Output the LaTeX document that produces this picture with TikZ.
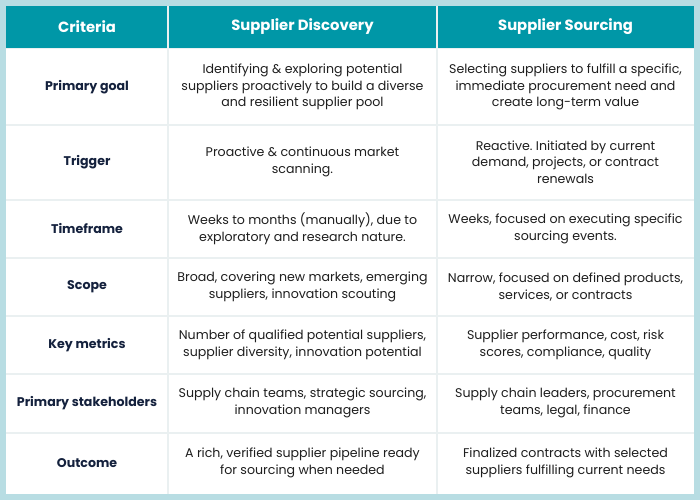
\documentclass[tikz,border=0pt]{standalone}
\usepackage{fontspec}
\setmainfont{Poppins}
\frenchspacing
\definecolor{bgblue}{HTML}{B8DDE3}
\definecolor{teal}{HTML}{0097A7}
\definecolor{sep}{HTML}{EAF0F1}
\definecolor{navy}{HTML}{14213D}
\definecolor{bodyc}{HTML}{1E1E1E}
\tikzset{x=1pt,y=-1pt,
 hd/.style={font=\bfseries\fontsize{14.8}{17}\selectfont,text=white,align=center},
 crit/.style={font=\bfseries\fontsize{12.6}{16}\selectfont,text=navy,align=center},
 bd/.style={font=\fontsize{12.6}{16.5}\selectfont,text=bodyc,align=center}}
\begin{document}
\begin{tikzpicture}
\fill[bgblue] (0,0) rectangle (700,500);
\useasboundingbox (0,0) rectangle (700,500);
\fill[sep] (6,6) rectangle (694,494);
\foreach \a/\b in {6/48}{
 \fill[teal] (6,\a) rectangle (167,\b);
 \fill[teal] (169,\a) rectangle (436,\b);
 \fill[teal] (438,\a) rectangle (694,\b);}
\foreach \a/\b in {49/124,126/199,201/257,259/315,317/373,375/432,434/494}{
 \fill[white] (6,\a) rectangle (167,\b);
 \fill[white] (169,\a) rectangle (436,\b);
 \fill[white] (438,\a) rectangle (694,\b);}
\node[hd] (h1) at (87,27) {Criteria};
\node[hd] (h2) at (302.5,27) {Supplier Discovery};
\node[hd] (h3) at (565.5,27) {Supplier Sourcing};
\node[crit] (c1) at (87,87) {Primary goal};
\node[crit] (c2) at (87,162) {Trigger};
\node[crit] (c3) at (87,229) {Timeframe};
\node[crit] (c4) at (87,287) {Scope};
\node[crit] (c5) at (87,345) {Key metrics};
\node[crit] (c6) at (87,403) {Primary stakeholders};
\node[crit] (c7) at (87,463) {Outcome};
\node[bd] (d1) at (302.5,87) {Identifying \& exploring potential\\suppliers proactively to build a diverse\\and resilient supplier pool};
\node[bd] (d2) at (302.5,162) {Proactive \& continuous market\\scanning.};
\node[bd] (d3) at (302.5,229) {Weeks to months (manually), due to\\exploratory and research nature.};
\node[bd] (d4) at (302.5,287) {Broad, covering new markets, emerging\\suppliers, innovation scouting};
\node[bd] (d5) at (302.5,345) {Number of qualified potential suppliers,\\supplier diversity, innovation potential};
\node[bd] (d6) at (302.5,403) {Supply chain teams, strategic sourcing,\\innovation managers};
\node[bd] (d7) at (302.5,463) {A rich, verified supplier pipeline ready\\for sourcing when needed};
\node[bd] (s1) at (565.5,87) {Selecting suppliers to fulfill a specific,\\immediate procurement need and\\create long-term value};
\node[bd] (s2) at (565.5,162) {Reactive. Initiated by current\\demand, projects, or contract\\renewals};
\node[bd] (s3) at (565.5,229) {Weeks, focused on executing specific\\sourcing events.};
\node[bd] (s4) at (565.5,287) {Narrow, focused on defined products,\\services, or contracts};
\node[bd] (s5) at (565.5,345) {Supplier performance, cost, risk\\scores, compliance, quality};
\node[bd] (s6) at (565.5,403) {Supply chain leaders, procurement\\teams, legal, finance};
\node[bd] (s7) at (565.5,463) {Finalized contracts with selected\\suppliers fulfilling current needs};
\end{tikzpicture}
\end{document}
